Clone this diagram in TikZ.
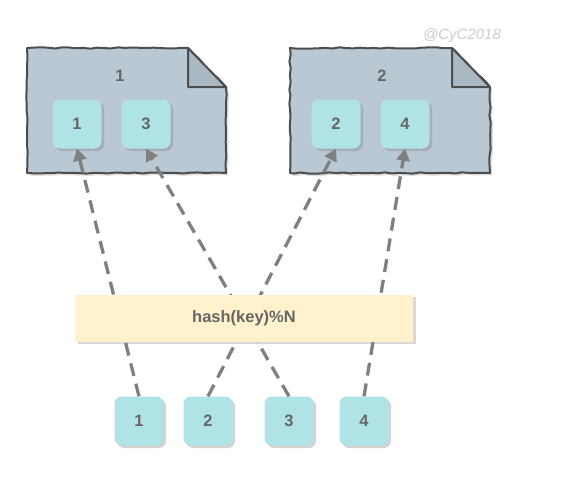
\documentclass[tikz,border=0pt]{standalone}
\usepackage{fontspec}
\setmainfont{Liberation Sans}
\definecolor{ink}{HTML}{666666}
\definecolor{edge}{HTML}{4D4D4D}
\definecolor{arrowc}{HTML}{808080}
\definecolor{docc}{HTML}{BAC8D3}
\definecolor{foldc}{HTML}{A9B8C3}
\definecolor{keyc}{HTML}{B0E3E6}
\definecolor{hashc}{HTML}{FFF2CC}
\usetikzlibrary{arrows.meta,shadows,decorations.pathmorphing}

\begin{document}
\begin{tikzpicture}[x=1pt,y=-1pt,every node/.style={font=\bfseries\fontsize{16.5}{19}\selectfont,text=ink}]
\tikzstyle{keybox}=[rounded corners=2.5mm,fill=keyc,minimum width=49pt,minimum height=49pt,drop shadow={shadow xshift=2.5pt,shadow yshift=-2.5pt,opacity=0.35}]
\tikzstyle{docpage}=[draw=edge,line width=2pt,fill=docc,line join=round,decorate,decoration={random steps,segment length=7pt,amplitude=0.7pt},drop shadow={shadow xshift=2.5pt,shadow yshift=-2.5pt,opacity=0.25}]
\tikzstyle{mapto}=[draw=arrowc,line width=3.3pt,dash pattern=on 13pt off 8pt,-{Triangle[length=12pt,width=13pt]}]
\useasboundingbox (0,0) rectangle (565,482);
% shard pages
\draw[docpage] (27,48) -- (188,48) -- (226,87) -- (226,173) -- (27,173) -- cycle;
\draw[draw=edge,line width=2pt,fill=foldc,line join=round] (188,48) -- (188,87) -- (226,87) -- cycle;
\draw[docpage] (290,48) -- (452,48) -- (490,87) -- (490,173) -- (290,173) -- cycle;
\draw[draw=edge,line width=2pt,fill=foldc,line join=round] (452,48) -- (452,87) -- (490,87) -- cycle;
\node (s1) at (120,76) {1};
\node (s2) at (382,76) {2};
\node[text=black!20,font=\itshape\fontsize{15}{18}\selectfont] (mark) at (462,36) {@CyC2018};
% keys inside shards
\node[keybox] (a1) at (77,124) {1};
\node[keybox] (a3) at (146,124) {3};
\node[keybox] (b2) at (336,124) {2};
\node[keybox] (b4) at (405,124) {4};
% incoming keys
\node[keybox] (k1) at (139,421) {1};
\node[keybox] (k2) at (208,421) {2};
\node[keybox] (k3) at (289,421) {3};
\node[keybox] (k4) at (364,421) {4};
\draw[mapto] (k1.north) -- (a1.south);
\draw[mapto] (k2.north) -- (b2.south);
\draw[mapto] (k3.north) -- (a3.south);
\draw[mapto] (k4.north) -- (b4.south);
% hash function on top of the lines
\node[fill=hashc,minimum width=338pt,minimum height=47pt,drop shadow={shadow xshift=2.5pt,shadow yshift=-2.5pt,opacity=0.3}] (hash) at (244,318) {hash(key)\%N};
\end{tikzpicture}
\end{document}
